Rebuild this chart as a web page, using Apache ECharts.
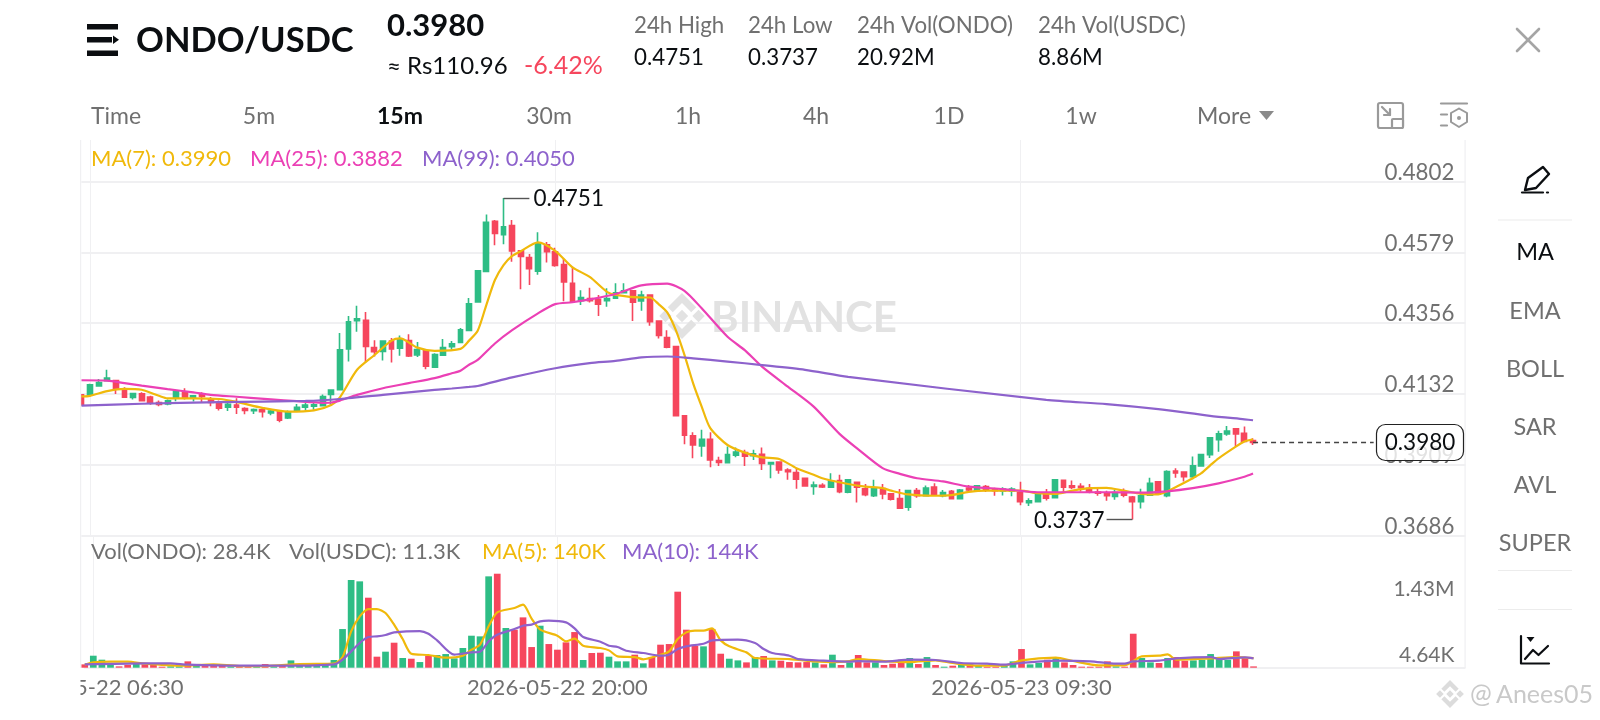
<!DOCTYPE html>
<html><head><meta charset="utf-8">
<style>html,body{margin:0;padding:0;background:#fff}#c{width:1600px;height:720px}</style>
<script src="https://cdn.jsdelivr.net/npm/echarts@6/dist/echarts.min.js"></script>
</head><body><div id="c"></div>
<script>
const open=[0.4130,0.4130,0.4158,0.4175,0.4175,0.4148,0.4122,0.4133,0.4123,0.4106,
0.4101,0.4120,0.4138,0.4123,0.4133,0.4115,0.4106,0.4091,0.4098,0.4087,
0.4080,0.4083,0.4073,0.4078,0.4057,0.4080,0.4091,0.4094,0.4096,0.4131,
0.4146,0.4275,0.4364,0.4365,0.4279,0.4267,0.4300,0.4277,0.4301,0.4256,
0.4269,0.4217,0.4255,0.4282,0.4295,0.4333,0.4423,0.4519,0.4677,0.4635,
0.4664,0.4584,0.4563,0.4520,0.4603,0.4581,0.4541,0.4482,0.4427,0.4434,
0.4431,0.4427,0.4435,0.4452,0.4458,0.4426,0.4445,0.4363,0.4311,0.4282,
0.4064,0.4001,0.3969,0.3990,0.3923,0.3916,0.3940,0.3948,0.3938,0.3943,
0.3912,0.3918,0.3893,0.3885,0.3867,0.3841,0.3845,0.3839,0.3860,0.3823,
0.3854,0.3834,0.3812,0.3835,0.3818,0.3803,0.3776,0.3828,0.3812,0.3839,
0.3812,0.3826,0.3803,0.3836,0.3828,0.3841,0.3833,0.3827,0.3827,0.3822,
0.3790,0.3793,0.3815,0.3806,0.3861,0.3843,0.3842,0.3835,0.3824,0.3820,
0.3810,0.3824,0.3808,0.3793,0.3814,0.3856,0.3812,0.3890,0.3887,0.3872,
0.3906,0.3941,0.3989,0.4007,0.4023,0.4009,0.3986];
const close=[0.4099,0.4162,0.4169,0.4183,0.4148,0.4123,0.4134,0.4112,0.4106,0.4100,
0.4111,0.4141,0.4120,0.4127,0.4125,0.4106,0.4088,0.4100,0.4091,0.4081,
0.4084,0.4077,0.4079,0.4050,0.4074,0.4091,0.4098,0.4099,0.4125,0.4145,
0.4272,0.4360,0.4370,0.4283,0.4266,0.4300,0.4275,0.4306,0.4253,0.4273,
0.4220,0.4257,0.4279,0.4291,0.4335,0.4417,0.4521,0.4674,0.4639,0.4660,
0.4584,0.4566,0.4528,0.4607,0.4581,0.4538,0.4486,0.4425,0.4437,0.4427,
0.4416,0.4434,0.4452,0.4458,0.4422,0.4445,0.4361,0.4317,0.4280,0.4064,
0.4003,0.3972,0.3990,0.3925,0.3917,0.3942,0.3950,0.3937,0.3944,0.3914,
0.3917,0.3893,0.3888,0.3864,0.3843,0.3846,0.3840,0.3859,0.3825,0.3862,
0.3839,0.3815,0.3836,0.3818,0.3801,0.3773,0.3828,0.3812,0.3836,0.3815,
0.3822,0.3803,0.3830,0.3830,0.3843,0.3830,0.3828,0.3833,0.3833,0.3793,
0.3796,0.3820,0.3804,0.3862,0.3839,0.3838,0.3837,0.3826,0.3820,0.3812,
0.3822,0.3814,0.3793,0.3812,0.3851,0.3820,0.3888,0.3884,0.3872,0.3906,
0.3942,0.3995,0.4007,0.4016,0.4007,0.3983,0.3980];
const high=[0.4133,0.4165,0.4180,0.4209,0.4177,0.4154,0.4134,0.4138,0.4127,0.4112,
0.4115,0.4143,0.4151,0.4129,0.4138,0.4123,0.4112,0.4104,0.4119,0.4091,
0.4087,0.4088,0.4083,0.4078,0.4081,0.4101,0.4104,0.4107,0.4131,0.4148,
0.4325,0.4379,0.4411,0.4391,0.4302,0.4300,0.4309,0.4317,0.4321,0.4297,
0.4272,0.4261,0.4306,0.4300,0.4341,0.4435,0.4521,0.4699,0.4681,0.4751,
0.4681,0.4586,0.4574,0.4643,0.4612,0.4594,0.4560,0.4534,0.4460,0.4468,
0.4445,0.4466,0.4482,0.4482,0.4460,0.4458,0.4447,0.4364,0.4334,0.4285,
0.4065,0.4012,0.4020,0.4012,0.3935,0.3967,0.3964,0.3957,0.3957,0.3964,
0.3919,0.3920,0.3899,0.3899,0.3869,0.3857,0.3851,0.3883,0.3878,0.3864,
0.3857,0.3849,0.3862,0.3849,0.3820,0.3833,0.3830,0.3836,0.3844,0.3851,
0.3830,0.3830,0.3833,0.3846,0.3845,0.3846,0.3837,0.3839,0.3839,0.3856,
0.3804,0.3824,0.3833,0.3864,0.3862,0.3860,0.3851,0.3849,0.3833,0.3828,
0.3830,0.3835,0.3811,0.3834,0.3869,0.3858,0.3892,0.3899,0.3889,0.3936,
0.3944,0.3997,0.4017,0.4032,0.4025,0.4030,0.3993];
const low=[0.4096,0.4130,0.4156,0.4172,0.4133,0.4122,0.4115,0.4111,0.4099,0.4094,
0.4097,0.4110,0.4115,0.4109,0.4106,0.4094,0.4081,0.4079,0.4070,0.4069,
0.4070,0.4059,0.4066,0.4044,0.4054,0.4079,0.4081,0.4083,0.4094,0.4099,
0.4146,0.4235,0.4329,0.4232,0.4251,0.4238,0.4232,0.4253,0.4249,0.4249,
0.4211,0.4216,0.4254,0.4272,0.4293,0.4331,0.4421,0.4519,0.4602,0.4605,
0.4550,0.4463,0.4476,0.4509,0.4547,0.4534,0.4425,0.4421,0.4413,0.4421,
0.4379,0.4408,0.4433,0.4450,0.4363,0.4395,0.4348,0.4308,0.4277,0.4062,
0.3974,0.3930,0.3935,0.3902,0.3906,0.3915,0.3933,0.3906,0.3925,0.3893,
0.3867,0.3881,0.3862,0.3834,0.3841,0.3815,0.3836,0.3838,0.3820,0.3820,
0.3791,0.3810,0.3808,0.3801,0.3797,0.3770,0.3765,0.3806,0.3810,0.3813,
0.3807,0.3801,0.3801,0.3822,0.3825,0.3824,0.3812,0.3813,0.3810,0.3782,
0.3780,0.3791,0.3797,0.3803,0.3824,0.3833,0.3825,0.3820,0.3812,0.3796,
0.3799,0.3807,0.3737,0.3772,0.3812,0.3816,0.3807,0.3869,0.3857,0.3864,
0.3904,0.3931,0.3951,0.4001,0.3967,0.3981,0.3972];
const volumeK=[72,259,173,101,29,58,86,72,58,22,
29,29,137,72,36,36,79,29,22,22,
22,79,29,36,158,43,36,36,72,166,
835,1894,1865,1512,238,346,540,209,194,122,
259,274,295,202,425,691,677,1973,2030,857,
821,1087,446,907,511,389,547,770,166,317,
324,238,137,137,281,94,230,497,511,1642,
821,475,461,835,302,194,158,115,230,252,
158,151,122,115,122,115,72,281,58,115,
274,115,115,58,86,173,209,79,230,58,
22,43,72,72,43,22,22,72,137,403,
72,101,173,230,115,58,22,22,22,137,
29,22,734,209,115,101,209,230,151,158,
173,295,187,173,353,223,28];
// moving averages: [candle index, value]
const ma7=[[0,.4125],[1,.4127],[3,.4142],[5,.4149],[7,.4146],[9,.4127],[10,.4119],[13,.4119],[16,.4117],[18,.4108],[21,.4089],[24,.4077],[27,.4081],[29,.4098],[30,.4122],[32,.4209],[34,.4255],[36,.4301],[37,.4308],[39,.4279],[41,.4269],[44,.4275],[45,.4301],[46,.4332],[47,.4413],[48,.4492],[49,.4539],[50,.4568],[51,.4583],[53,.4611],[55,.4584],[57,.4532],[59,.4502],[61,.4455],[62,.4445],[65,.4437],[66,.4437],[67,.4416],[68,.4390],[69,.4334],[70,.4256],[71,.4167],[72,.4093],[73,.4025],[75,.3972],[77,.3948],[79,.3933],[81,.3928],[83,.3899],[85,.3878],[86,.3867],[87,.3860],[89,.3849],[91,.3841],[93,.3836],[94,.3828],[96,.3816],[99,.3812],[101,.3814],[103,.3824],[105,.3828],[109,.3828],[111,.3820],[113,.3818],[115,.3828],[117,.3836],[119,.3837],[121,.3828],[123,.3818],[125,.3816],[127,.3839],[129,.3867],[130,.3883],[131,.3907],[132,.3930],[134,.3967],[135,.3983],[136,.3990]];
const ma25=[[0,.4176],[3,.4175],[5,.4167],[7,.4159],[10,.4148],[13,.4138],[15,.4130],[18,.4124],[22,.4116],[25,.4110],[28,.4105],[29,.4106],[30,.4112],[32,.4130],[35,.4151],[38,.4167],[41,.4183],[43,.4198],[44,.4206],[45,.4225],[46,.4240],[48,.4292],[50,.4334],[53,.4387],[55,.4416],[57,.4422],[59,.4431],[62,.4448],[65,.4475],[68,.4481],[70,.4458],[72,.4403],[75,.4313],[77,.4271],[79,.4219],[82,.4156],[85,.4093],[88,.4007],[90,.3962],[93,.3899],[95,.3881],[97,.3867],[100,.3857],[103,.3841],[107,.3833],[111,.3823],[115,.3823],[119,.3823],[123,.3822],[126,.3826],[129,.3836],[132,.3851],[135,.3872],[136,.3882]];
const ma99=[[0,.4096],[7,.4102],[16,.4107],[26,.4111],[30,.4117],[35,.4130],[41,.4146],[43,.4150],[45,.4155],[46,.4158],[50,.4185],[55,.4214],[59,.4230],[62,.4237],[65,.4248],[68,.4251],[71,.4245],[75,.4235],[79,.4224],[84,.4209],[89,.4187],[112,.4114],[119,.4101],[125,.4085],[131,.4064],[135,.4053],[136,.4050]];
const volMa5K=[[0,65],[1,115],[3,130],[5,130],[7,86],[11,43],[15,72],[18,36],[21,36],[25,79],[29,86],[30,230],[31,785],[32,1109],[33,1267],[34,1267],[35,1181],[36,929],[37,619],[38,302],[40,274],[42,216],[44,259],[45,389],[46,497],[47,893],[48,1195],[50,1289],[51,1361],[52,1058],[53,821],[55,691],[56,569],[57,626],[58,475],[60,425],[61,374],[62,245],[64,230],[65,180],[67,281],[68,353],[69,619],[70,763],[71,799],[72,799],[73,850],[74,590],[75,461],[77,331],[78,209],[82,187],[85,137],[87,122],[89,144],[90,187],[93,144],[96,122],[99,158],[101,101],[104,43],[107,43],[109,158],[113,216],[115,144],[118,50],[121,50],[123,245],[125,259],[126,288],[127,173],[131,202],[134,230],[136,205]];
const volMa10K=[[0,72],[7,94],[10,94],[12,65],[18,43],[23,43],[29,72],[30,173],[32,533],[33,662],[34,677],[35,706],[36,763],[39,792],[40,734],[41,590],[43,281],[45,331],[46,346],[47,569],[48,713],[50,835],[51,907],[52,929],[53,1001],[54,1015],[56,979],[57,850],[58,662],[60,562],[61,475],[62,446],[63,367],[65,317],[67,259],[68,281],[69,403],[70,461],[72,518],[73,590],[76,605],[78,533],[79,403],[80,317],[82,259],[83,187],[86,151],[89,130],[90,144],[93,130],[96,173],[99,166],[102,101],[105,86],[107,65],[109,101],[113,151],[117,137],[120,86],[121,86],[122,137],[125,151],[127,202],[131,230],[132,187],[135,223],[136,202]];
const priceTicks=[0.3686,0.3909,0.4132,0.4356,0.4579,0.4802];
const volumeTicks=[4640,1430000];
const timeLabels=['2026-05-22 06:30','2026-05-22 20:00','2026-05-23 09:30'];
const headerStats=[['24h High','0.4751'],['24h Low','0.3737'],['24h Vol(ONDO)','20.92M'],['24h Vol(USDC)','8.86M']];
const tabs=['Time','5m','15m','30m','1h','4h','1D','1w','More'];
const sideItems=['MA','EMA','BOLL','SAR','AVL','SUPER'];

const UP='#2EBD85',DOWN='#F6465D',ORANGE='#F0B90B',PINK='#EB40B5',PURPLE='#8D62CC';
const GRAY='#707070',GRID='#f0f0f2',FONT='Lato, "Open Sans", sans-serif';
const STEP=8.615,LEFT=81.4,SLOTS=161;
// time axis: one slot per 15 minutes, index 1 = 06:30
const categories=[];
for(let i=0;i<=SLOTS;i++){
  const d=new Date(Date.UTC(2026,4,22,6,30)+(i-1)*900000);
  const p=n=>String(n).padStart(2,'0');
  categories.push(`${d.getUTCFullYear()}-${p(d.getUTCMonth()+1)}-${p(d.getUTCDate())} ${p(d.getUTCHours())}:${p(d.getUTCMinutes())}`);
}
const showTime=i=>timeLabels.includes(categories[i]);
const candles=open.map((o,i)=>[o,close[i],low[i],high[i]]);
const volumes=volumeK.map((v,i)=>({value:v*1000,itemStyle:{color:close[i]>=open[i]?UP:DOWN}}));
const toUnits=a=>a.map(([i,v])=>[i,v*1000]);
const lastPrice=close[close.length-1],hiIdx=high.indexOf(Math.max(...high)),loIdx=low.indexOf(Math.min(...low));

const g=[];
const txt=(text,x,y,size,fill,opts={})=>g.push({type:'text',x,y,z:opts.z||50,style:{text,fill,font:`${opts.weight||'normal'} ${size}px ${FONT}`,textAlign:opts.align||'left',textVerticalAlign:'middle'}});
const rect=(x,y,w,h,fill,opts={})=>g.push({type:'rect',z:opts.z||50,shape:{x,y,width:w,height:h,r:opts.r||0},style:{fill,stroke:opts.stroke,lineWidth:opts.lw}});
const poly=(points,stroke,lw,z=50)=>g.push({type:'polyline',z,shape:{points},style:{stroke,lineWidth:lw,fill:'none',lineCap:'round',lineJoin:'round'}});
const fillp=(points,fill,z=50)=>g.push({type:'polygon',z,shape:{points},style:{fill}});

// masks for axis overflow
rect(0,140,80.5,564,'#fff',{z:60});
rect(1465.5,130,6,545,'#fff',{z:60});
// frame lines
rect(80,140,1.2,528,GRID,{z:61});
rect(1464.5,140,1.2,528,GRID,{z:61});

// watermark logo + text
const logo=(cx,cy,s,fill,z)=>{
  const d=(x,y,r)=>fillp([[cx+x*s,cy+y*s-r*s],[cx+x*s+r*s,cy+y*s],[cx+x*s,cy+y*s+r*s],[cx+x*s-r*s,cy+y*s]],fill,z);
  d(0,0,.27);d(-.72,0,.27);d(.72,0,.27);
  fillp([[cx,cy-s],[cx+.62*s,cy-.38*s],[cx+.4*s,cy-.16*s],[cx,cy-.56*s],[cx-.4*s,cy-.16*s],[cx-.62*s,cy-.38*s]],fill,z);
  fillp([[cx,cy+s],[cx+.62*s,cy+.38*s],[cx+.4*s,cy+.16*s],[cx,cy+.56*s],[cx-.4*s,cy+.16*s],[cx-.62*s,cy+.38*s]],fill,z);
};
logo(682,316,23,'#e2e2e2',1);
txt('BINANCE',711,318,42,'#e2e2e2',{weight:'bold',z:1});
logo(1450,694,14,'#dcdcdc',70);
txt('@',1470,695,26,'#c9c9c9',{z:70});
txt('Anees05',1496,695,25,'#c9c9c9',{z:70});

// header
rect(87,24,31,5.5,'#0b0e11');rect(87,37,25,5.5,'#0b0e11');rect(87,50.5,31,5.5,'#0b0e11');
fillp([[113,35.5],[119,39.7],[113,44]],'#0b0e11');
txt('ONDO/USDC',136,41,34.5,'#0b0e11',{weight:'bold'});
txt('0.3980',387,26,31,'#0b0e11',{weight:'bold'});
txt('≈ Rs110.96',387,66,24,'#0b0e11');
txt('-6.42%',524,66,25,DOWN);
[634,748,857,1038].forEach((x,i)=>{txt(headerStats[i][0],x,26,22.3,GRAY);txt(headerStats[i][1],x,58,22.3,'#0b0e11');});
[[91,'left'],[259,'center'],[400,'center'],[549,'center'],[688,'center'],[816,'center'],[949,'center'],[1081,'center'],[1197,'left']]
  .forEach(([x,align],i)=>txt(tabs[i],x,117,23,i===2?'#0b0e11':GRAY,{weight:i===2?'bold':'normal',align}));
fillp([[1259,111],[1274,111],[1266.5,120]],'#8a8a8a');
// tool icons
const ic='#9a9a9a';
rect(1378,103,25,25,'none',{stroke:ic,lw:2.2,r:2});
rect(1392,119,11,9,'#fff',{stroke:ic,lw:2.2,r:1});
poly([[1382,107],[1390,115]],ic,2.2);poly([[1390,109],[1390,115],[1384,115]],ic,2.2);
poly([[1441,103.5],[1467,103.5]],ic,2.2);poly([[1441,114.5],[1447,114.5]],ic,2.2);poly([[1441,125.5],[1447,125.5]],ic,2.2);
poly([[1459,108.5],[1467,113],[1467,122],[1459,127],[1451,122],[1451,113],[1459,108.5]],ic,2);
g.push({type:'circle',z:50,shape:{cx:1459,cy:118,r:2},style:{fill:ic}});
poly([[1517,29],[1539,51]],'#a5a5a5',2.6);poly([[1539,29],[1517,51]],'#a5a5a5',2.6);

// sidebar
poly([[1525,190],[1528,178],[1543,167],[1549,174],[1536,188],[1525,190]],'#0b0e11',2.4);
poly([[1522,192.5],[1543,192.5]],'#0b0e11',2.2);poly([[1547,192.5],[1548,192.5]],'#0b0e11',2.2);
rect(1498,219.5,74,1,'#ececec');rect(1498,570,74,1,'#ececec');rect(1498,609,74,1,'#ececec');
[252,311,369,427,485,543].forEach((y,i)=>txt(sideItems[i],1535,y,23.5,i===0?'#0b0e11':GRAY,{align:'center'}));
poly([[1521,636],[1521,663.5],[1549,663.5]],'#0b0e11',2.2);
poly([[1525,659],[1533,650],[1538.5,655],[1548,646]],'#0b0e11',2.2);
fillp([[1526.5,637],[1534.5,637],[1530.5,642]],'#0b0e11');

// legends
txt('MA(7): 0.3990',91,159,22,ORANGE);txt('MA(25): 0.3882',250,159,22,PINK);txt('MA(99): 0.4050',422,159,22,PURPLE);
txt('Vol(ONDO): 28.4K',91,552,22,GRAY);txt('Vol(USDC): 11.3K',289,552,22,GRAY);txt('MA(5): 140K',482,552,22,ORANGE);txt('MA(10): 144K',622,552,22,PURPLE);

// current price tag
rect(1376.5,424.5,87,36,'rgba(255,255,255,0.8)',{stroke:'#222',lw:1.2,r:9,z:62});
txt('0.3980',1420,443,22.5,'#0b0e11',{align:'center',z:63});

const lineOf=(name,data,color,xi,lw=2.2)=>({name,type:'line',data,xAxisIndex:xi,yAxisIndex:xi,showSymbol:false,symbol:'none',smooth:0.25,lineStyle:{color,width:lw},z:3,silent:true});
const endLine=(idx,val,toIdx,dx)=>[
  {coord:[idx,val],symbol:'none',lineStyle:{color:'#555',width:1.4,type:'solid'},label:{show:true,position:'end',formatter:val.toFixed(4),color:'#0b0e11',fontSize:22.5,fontFamily:FONT,distance:2,offset:[dx,1]}},
  {coord:[toIdx,val],symbol:'none'}];

const option={
  animation:false,backgroundColor:'#fff',
  graphic:{elements:g},
  grid:[{left:LEFT,top:140,width:STEP*SLOTS,height:395.7},{left:LEFT,top:535.7,width:STEP*SLOTS,height:132}],
  xAxis:[0,1].map(i=>({type:'category',gridIndex:i,data:categories,boundaryGap:false,
    axisLine:{show:i===1,onZero:false,lineStyle:{color:GRID,width:2}},axisTick:{show:false},
    splitLine:{show:true,interval:idx=>showTime(idx),lineStyle:{color:GRID,width:1}},
    axisLabel:{show:i===1,interval:idx=>showTime(idx),color:GRAY,fontSize:22,fontFamily:FONT,margin:9,hideOverlap:false}})),
  yAxis:[
    {type:'value',gridIndex:0,position:'right',min:0.3686,max:0.49335,scale:true,axisLine:{show:false},
     axisTick:{show:false,customValues:priceTicks},splitLine:{show:true,lineStyle:{color:GRID,width:2}},
     axisLabel:{inside:true,customValues:priceTicks,formatter:v=>v.toFixed(4),color:GRAY,fontSize:22.3,fontFamily:FONT,verticalAlign:'bottom',margin:14,lineHeight:18}},
    {type:'value',gridIndex:1,position:'right',min:0,max:2851000,axisLine:{show:false},
     axisTick:{show:false,customValues:volumeTicks},splitLine:{show:false},
     axisLabel:{inside:true,customValues:volumeTicks,formatter:v=>v>=1e6?(v/1e6).toFixed(2)+'M':(v/1e3).toFixed(2)+'K',color:GRAY,fontSize:21,fontFamily:FONT,verticalAlign:'bottom',margin:14,lineHeight:24}}
  ],
  series:[
    {name:'ONDO/USDC',type:'candlestick',xAxisIndex:0,yAxisIndex:0,data:candles,barWidth:5.4,z:2,silent:true,
     itemStyle:{color:UP,color0:DOWN,borderColor:UP,borderColor0:DOWN,borderWidth:1.6},
     markLine:{silent:true,animation:false,symbol:'none',data:[
       endLine(hiIdx,high[hiIdx],hiIdx+3.4,2),
       endLine(loIdx,low[loIdx],loIdx-3.4,0),
       [{coord:[close.length-1,lastPrice],symbol:'none',lineStyle:{color:'#444',width:1.4,type:[5,4]},label:{show:false}},{coord:[150,lastPrice],symbol:'none'}]
     ]}},
    lineOf('MA(7)',ma7,ORANGE,0),lineOf('MA(25)',ma25,PINK,0),lineOf('MA(99)',ma99,PURPLE,0),
    {name:'Vol',type:'bar',xAxisIndex:1,yAxisIndex:1,data:volumes,barWidth:6.7,z:2,silent:true},
    lineOf('Vol MA(5)',toUnits(volMa5K),ORANGE,1),lineOf('Vol MA(10)',toUnits(volMa10K),PURPLE,1)
  ]
};
echarts.init(document.getElementById('c')).setOption(option);
</script></body></html>
